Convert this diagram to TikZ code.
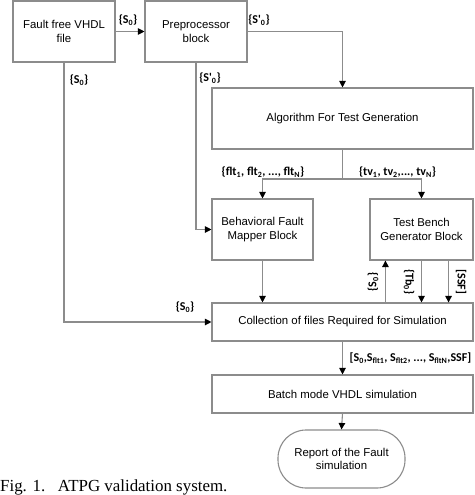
\documentclass[tikz,border=0pt]{standalone}
\usepackage{fontspec}
\setmainfont{Liberation Sans}
\newfontfamily\lblfont{Carlito}
\newfontfamily\capfont{Liberation Serif}
\usetikzlibrary{arrows.meta,calc}
\definecolor{ln}{HTML}{8C8C8C}
\tikzset{
  box/.style={draw=ln, line width=1.1pt, fill=white, align=center, inner sep=0pt,
    font=\fontsize{11.4}{13.6}\selectfont},
  arr/.style={draw=ln, line width=1.1pt, -{Triangle[length=6.5pt,width=6.5pt,color=black]}},
  ln/.style={draw=ln, line width=1.1pt},
  lbl/.style={font=\lblfont\bfseries\fontsize{12}{14}\selectfont, inner sep=0pt}
}
\begin{document}
\begin{tikzpicture}[x=1pt,y=-1pt]
\useasboundingbox (0,0) rectangle (474,495);
\node[box, minimum width=102pt, minimum height=61pt] (src) at (64,31.5) {Fault free VHDL\\file};
\node[box, minimum width=102pt, minimum height=61pt] (pre) at (196,31.5) {Preprocessor\\block};
\node[box, minimum width=261pt, minimum height=61pt] (alg) at (342.5,118.5) {Algorithm For Test Generation};
\node[box, minimum width=101pt, minimum height=61pt] (beh) at (262.5,229.5) {Behavioral Fault\\Mapper Block};
\node[box, minimum width=103pt, minimum height=61pt] (tb) at (421.5,229.5) {Test Bench\\Generator Block};
\node[box, minimum width=261pt, minimum height=38pt] (col) at (342.5,322) {Collection of files Required for Simulation};
\node[box, minimum width=261pt, minimum height=38pt] (bat) at (342.5,394) {Batch mode VHDL simulation};
\node[box, minimum width=127pt, minimum height=58pt, rounded corners=28pt] (rep) at (341.5,459) {Report of the Fault\\simulation};
\coordinate (split) at (342.5,179);
% connectors
\draw[arr] (src.east) -- (pre.west);
\draw[arr] (src.south) |- (col.west);
\draw[arr] (pre.south) |- (beh.west);
\draw[arr] (pre.east) -| (alg.north);
\draw[ln] (alg.south) -- (split);
\draw[arr] (split) -| (beh.north);
\draw[arr] (split) -| (tb.north);
\draw[arr] (beh.south) -- (beh.south |- col.north);
\draw[arr] ([xshift=16pt]tb.south west |- col.north) -- ([xshift=16pt]tb.south west);
\draw[arr] (tb.south) -- (tb.south |- col.north);
\draw[arr] ([xshift=-25pt]tb.south east) -- ([xshift=-25pt]tb.south east |- col.north);
\draw[arr] (col.south) -- (bat.north);
\draw[arr] (bat.south) -- (rep.north);
% labels
\node[lbl] (l1) at (128,20) {\{S\textsubscript{0}\}};
\node[lbl] (l2) at (259,20) {\{S'\textsubscript{0}\}};
\node[lbl] (l3) at (79,80) {\{S\textsubscript{0}\}};
\node[lbl] (l4) at (210,78) {\{S'\textsubscript{0}\}};
\node[lbl] (l5) at (263,172) {\{flt\textsubscript{1}, flt\textsubscript{2}, ..., flt\textsubscript{N}\}};
\node[lbl] (l6) at (397.5,172) {\{tv\textsubscript{1}, tv\textsubscript{2},..., tv\textsubscript{N}\}};
\node[lbl] (l7) at (185,307) {\{S\textsubscript{0}\}};
\node[lbl, rotate=90] (l8) at (373,282) {\{S\textsubscript{0}\}};
\node[lbl, rotate=-90] (l9) at (409,282) {\{Tb\textsubscript{0}\}};
\node[lbl, rotate=-90] (l10) at (461,282) {[SSF]};
\node[lbl] (l11) at (410.5,358) {[S\textsubscript{0},S\textsubscript{flt1}, S\textsubscript{flt2}, ..., S\textsubscript{fltN},SSF]};
% caption
\node[anchor=base west, inner sep=0pt, font=\capfont\fontsize{16.9}{20}\selectfont] (cap) at (0,491) {Fig. 1.\ \ \ ATPG validation system.};
\end{tikzpicture}
\end{document}
